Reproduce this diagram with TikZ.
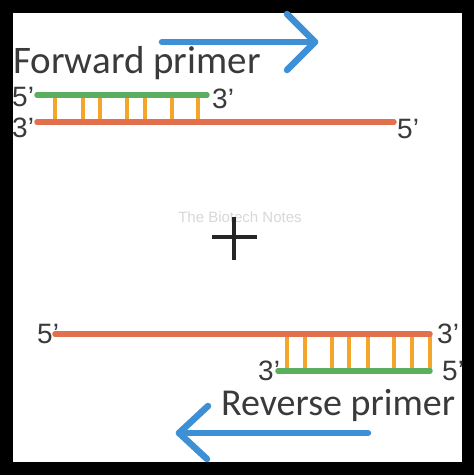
\documentclass[tikz,border=0pt]{standalone}
\usepackage{fontspec}
\setmainfont{Liberation Sans}
\newfontfamily\titlefont{Carlito}
\definecolor{strandgreen}{HTML}{5AAE5E}
\definecolor{strandorange}{HTML}{E2704E}
\definecolor{rungcol}{HTML}{F4A62A}
\definecolor{arrowblue}{HTML}{3D8FD6}
\definecolor{textgray}{HTML}{3A3A3A}
\definecolor{wmgray}{HTML}{D8D8D8}
\begin{document}
\begin{tikzpicture}[x=1pt,y=-1pt,
  greenstrand/.style={draw=strandgreen,line width=5.5pt,line cap=round},
  orangestrand/.style={draw=strandorange,line width=5.5pt,line cap=round},
  rung/.style={draw=rungcol,line width=3.2pt,line cap=round},
  bluearrow/.style={draw=arrowblue,line width=6.5pt,line cap=round,line join=round},
  endlabel/.style={inner sep=0pt,anchor=base west,text=textgray,font=\fontsize{28}{28}\selectfont},
  titlelabel/.style={inner sep=0pt,anchor=base west,text=textgray,font=\titlefont\fontsize{39}{39}\selectfont}]
\useasboundingbox (0,0) rectangle (474,475);
\fill[black] (0,0) rectangle (474,475);
\fill[white] (13,13) rectangle (462,462);

% watermark
\node[inner sep=0pt,text=wmgray,font=\fontsize{15}{15}\selectfont] (wm) at (240,217) {The Biotech Notes};

% ---------- top: forward primer ----------
\coordinate (fa1) at (162,42);
\coordinate (fa2) at (315,42);
\coordinate (fah1) at (287,14);
\coordinate (fah2) at (287,70);
\draw[bluearrow] (fa1) -- (fa2);
\draw[bluearrow] (fah1) -- (fa2) -- (fah2);
\node[titlelabel] (fwd) at (13,73) {Forward primer};

\coordinate (g1a) at (37,95);
\coordinate (g1b) at (207,95);
\coordinate (o1a) at (37,122);
\coordinate (o1b) at (394,122);
\foreach \x in {55,83,100,127,145,172,198}
  \draw[rung] (\x,95) -- (\x,122);
\draw[greenstrand] (g1a) -- (g1b);
\draw[orangestrand] (o1a) -- (o1b);
\node[endlabel] (l1) at (12,106) {5’};
\node[endlabel] (l2) at (212,108) {3’};
\node[endlabel] (l3) at (12,137) {3’};
\node[endlabel] (l4) at (397,138) {5’};

% plus sign
\coordinate (ph1) at (212,237);
\coordinate (ph2) at (257,237);
\coordinate (pv1) at (234,217);
\coordinate (pv2) at (234,260);
\draw[line width=4pt,black!85] (ph1) -- (ph2);
\draw[line width=4pt,black!85] (pv1) -- (pv2);

% ---------- bottom: reverse primer ----------
\coordinate (o2a) at (55,334);
\coordinate (o2b) at (430,334);
\coordinate (g2a) at (278,371);
\coordinate (g2b) at (430,371);
\foreach \x in {287,305,332,349,368,394,412,430}
  \draw[rung] (\x,334) -- (\x,371);
\draw[orangestrand] (o2a) -- (o2b);
\draw[greenstrand] (g2a) -- (g2b);
\node[endlabel] (l5) at (37,343) {5’};
\node[endlabel] (l6) at (437,343) {3’};
\node[endlabel] (l7) at (258,380) {3’};
\node[endlabel] (l8) at (442,380) {5’};

\node[titlelabel,font=\titlefont\fontsize{38}{38}\selectfont] (rev) at (221,415) {Reverse primer};
\coordinate (ra1) at (368,433);
\coordinate (ra2) at (179,433);
\coordinate (rah1) at (208,406);
\coordinate (rah2) at (207,459);
\draw[bluearrow] (ra1) -- (ra2);
\draw[bluearrow] (rah1) -- (ra2) -- (rah2);
\end{tikzpicture}
\end{document}
